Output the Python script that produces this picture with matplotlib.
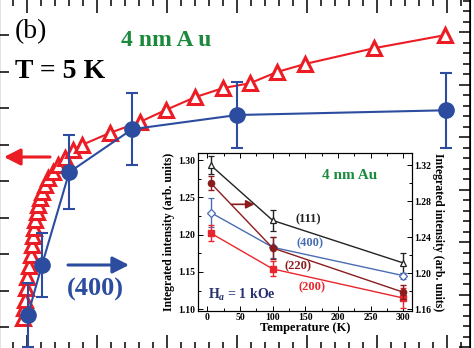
import numpy as np
import matplotlib
matplotlib.use('Agg')
import matplotlib.pyplot as plt
from matplotlib.ticker import MultipleLocator, FixedLocator

plt.rcParams['font.family'] = 'Liberation Serif'
plt.rcParams['font.weight'] = 'bold'
plt.rcParams['axes.labelweight'] = 'bold'
plt.rcParams['mathtext.fontset'] = 'custom'
plt.rcParams['mathtext.rm'] = 'Liberation Serif:bold'
plt.rcParams['mathtext.it'] = 'Liberation Serif:italic:bold'

RED = '#ec1c24'
BLUE = '#2b4c9f'
GREEN = '#1b8a3c'
DARKRED = '#8a1c1e'
NAVY = '#27306e'

# main panel (tick labels are cropped, units arbitrary)
red_h = [0.00, 0.02, 0.03, 0.04, 0.06, 0.09, 0.11, 0.13, 0.14, 0.16, 0.17, 0.20, 0.21,
         0.24, 0.27, 0.31, 0.36, 0.43, 0.50, 0.60, 0.71, 0.84, 1.24, 1.67, 2.04, 2.46,
         2.86, 3.24, 3.63, 4.03, 5.01, 6.03]
red_y = [0.25, 0.52, 0.74, 1.07, 1.37, 1.67, 1.97, 2.25, 2.49, 2.71, 2.93, 3.15, 3.34,
         3.53, 3.70, 3.89, 4.08, 4.25, 4.44, 4.63, 4.85, 4.99, 5.32, 5.62, 5.95, 6.30,
         6.55, 6.68, 6.99, 7.21, 7.64, 8.00]

blue_h = [0.07, 0.27, 0.66, 1.56, 3.06, 6.04]
blue_y = [0.61, 1.56, 3.33, 4.15, 4.42, 4.51]
blue_err = [0.61, 0.61, 0.70, 0.69, 0.63, 0.71]

# inset
temps = [5, 100, 300]
i111 = [1.293, 1.219, 1.162]
e111 = [0.012, 0.014, 0.014]
i220 = [1.300, 1.228, 1.179]   # right axis
e220 = [0.008, 0.012, 0.008]
i400 = [1.2295, 1.183, 1.145]
e400 = [0.019, 0.014, 0.004]
i200 = [1.202, 1.154, 1.115]
e200 = [0.011, 0.010, 0.013]

W, H = 474, 348
fig = plt.figure(figsize=(W / 100, H / 100), dpi=100)

ax = fig.add_axes([-1 / W, -1 / H, 471 / W, 350 / H])
ax.plot(red_h, red_y, '-^', color=RED, lw=1.5, ms=10.5, mfc='white', mew=2.2)
ax.set_xlim(-0.343, 6.386)
ax.set_ylim(-0.60, 8.99)
ax.xaxis.set_major_locator(FixedLocator(np.arange(7) + 0.053))
ax.xaxis.set_minor_locator(FixedLocator(np.arange(-0.347, 6.4, 0.2)))
ax.yaxis.set_major_locator(MultipleLocator(1))
ax.tick_params(which='both', direction='in', top=True, labelbottom=False, labelleft=False)
ax.tick_params(axis='x', which='major', length=10, width=1.1)
ax.tick_params(axis='x', which='minor', length=5, width=1.1)
ax.tick_params(axis='y', which='major', length=7, width=1.1)
ax.spines['top'].set_color('#888888')
ax.spines['top'].set_linewidth(0.8)

ax2 = ax.twinx()
ax2.errorbar(blue_h, blue_y, yerr=blue_err, fmt='-o', color=BLUE, lw=1.5, ms=11,
             elinewidth=1.5, capsize=4, capthick=1.5)
ax2.set_ylim(-0.038, 6.63)
ax2.yaxis.set_major_locator(MultipleLocator(1))
ax2.yaxis.set_minor_locator(MultipleLocator(0.2))
ax2.tick_params(which='both', direction='in', labelright=False)
ax2.tick_params(which='major', length=8, width=1.1)
ax2.tick_params(which='minor', length=5, width=1.1)
ax2.spines['right'].set_linewidth(1.2)
ax2.spines['top'].set_color('#888888')
ax2.spines['top'].set_linewidth(0.8)

def px(x, y):
    return x, H - y

fig.text(15 / W, 1 - 32 / H, '(b)', fontsize=20, fontweight='normal', va='center', ha='left')
fig.text(15 / W, 1 - 72 / H, 'T = 5 K', fontsize=20, va='center', ha='left')
fig.text(121 / W, 1 - 41 / H, '4 nm A u', fontsize=17, color=GREEN, va='center', ha='left')
fig.text(67 / W, 1 - 289 / H, '(400)', fontsize=19, color=BLUE, va='center', ha='left')

ax.annotate('', xy=px(4, 157), xytext=px(50, 157), xycoords='figure pixels',
            textcoords='figure pixels',
            arrowprops=dict(arrowstyle='-|>,head_length=0.55,head_width=0.28', color=RED,
                            lw=2.2, mutation_scale=18, shrinkA=0, shrinkB=0))
ax.annotate('', xy=px(129, 265), xytext=px(68, 265), xycoords='figure pixels',
            textcoords='figure pixels',
            arrowprops=dict(arrowstyle='-|>,head_length=0.55,head_width=0.28', color=BLUE,
                            lw=2.2, mutation_scale=18, shrinkA=0, shrinkB=0))

# inset
ins = fig.add_axes([197.7 / W, (H - 310.7) / H, 214 / W, 158 / H])
ins.set_zorder(5)
ins.set_facecolor('white')
ins.errorbar(temps, i111, yerr=e111, fmt='-^', color='#222222', lw=1, ms=5, mfc='white',
             mew=0.9, elinewidth=1, capsize=2.5)
ins.errorbar(temps, i400, yerr=e400, fmt='-D', color='#4a6cb3', lw=1, ms=4, mfc='white',
             mew=0.9, elinewidth=1, capsize=2.5)
ins.errorbar(temps, i200, yerr=e200, fmt='-s', color='#e8262d', lw=1, ms=4,
             elinewidth=1, capsize=2.5)
ins.set_xlim(-15, 313)
ins.set_ylim(1.098, 1.3098)
ins.xaxis.set_major_locator(MultipleLocator(50))
ins.xaxis.set_minor_locator(MultipleLocator(25))
ins.yaxis.set_major_locator(MultipleLocator(0.05))
ins.yaxis.set_minor_locator(MultipleLocator(0.025))
ins.yaxis.set_major_formatter('{x:.2f}')
ins.tick_params(which='both', direction='in', top=True, labelsize=7, pad=2)
ins.tick_params(which='major', length=3.5, width=0.7)
ins.tick_params(which='minor', length=2, width=0.7)
for s in ins.spines.values():
    s.set_linewidth(0.8)
ins.set_xlabel('Temperature (K)', fontsize=9, labelpad=0)
ins.set_ylabel('Integrated intensity (arb. units)', fontsize=8.5, labelpad=2)

ins2 = ins.twinx()
ins2.set_zorder(6)
ins2.errorbar(temps, i220, yerr=e220, fmt='-o', color=DARKRED, lw=1, ms=4.5,
              elinewidth=1, capsize=2.5)
ins2.set_ylim(1.1585, 1.3337)
ins2.yaxis.set_major_locator(MultipleLocator(0.04))
ins2.yaxis.set_minor_locator(MultipleLocator(0.02))
ins2.yaxis.set_major_formatter('{x:.2f}')
ins2.tick_params(which='both', direction='in', labelsize=7, pad=2)
ins2.tick_params(which='major', length=3.5, width=0.7)
ins2.tick_params(which='minor', length=2, width=0.7)
ins2.set_ylabel('Integrated intensity (arb. units)', fontsize=8.5, rotation=270, labelpad=9)

ins.text(218, 1.279, '4 nm Au', fontsize=11, color=GREEN, ha='center', va='center')
ins.text(155, 1.221, '(111)', fontsize=9, color='#222222', ha='center', va='center')
ins.text(157, 1.188, '(400)', fontsize=9, color='#4a6cb3', ha='center', va='center')
ins.text(139, 1.157, '(220)', fontsize=9, color=DARKRED, ha='center', va='center')
ins.text(160, 1.130, '(200)', fontsize=9, color='#e8262d', ha='center', va='center')
ins.text(1, 1.119, 'H$_{a}$ = 1 kOe', fontsize=10, color=NAVY, ha='left', va='center')
ins.annotate('', xy=(72, 1.2406), xytext=(37, 1.2406),
             arrowprops=dict(arrowstyle='-|>,head_length=0.5,head_width=0.25', color=DARKRED,
                             lw=1.2, mutation_scale=10, shrinkA=0, shrinkB=0))

fig.savefig('out.png', dpi=100)
